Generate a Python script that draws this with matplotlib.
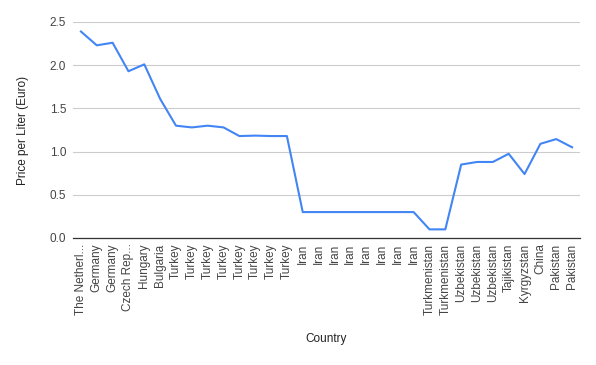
import matplotlib.pyplot as plt
import numpy as np

plt.rcParams['font.family'] = ['Liberation Sans', 'DejaVu Sans']

countries = ['The Netherl...', 'Germany', 'Germany', 'Czech Rep...', 'Hungary', 'Bulgaria',
             'Turkey', 'Turkey', 'Turkey', 'Turkey', 'Turkey', 'Turkey', 'Turkey', 'Turkey',
             'Iran', 'Iran', 'Iran', 'Iran', 'Iran', 'Iran', 'Iran', 'Iran',
             'Turkmenistan', 'Turkmenistan', 'Uzbekistan', 'Uzbekistan', 'Uzbekistan',
             'Tajikistan', 'Kyrgyzstan', 'China', 'Pakistan', 'Pakistan']
price = [2.39, 2.23, 2.26, 1.93, 2.01, 1.61,
         1.30, 1.28, 1.30, 1.28, 1.18, 1.185, 1.18, 1.18,
         0.30, 0.30, 0.30, 0.30, 0.30, 0.30, 0.30, 0.30,
         0.10, 0.10, 0.85, 0.88, 0.88,
         0.975, 0.74, 1.09, 1.145, 1.05]
yticks = [0.0, 0.5, 1.0, 1.5, 2.0, 2.5]

fig = plt.figure(figsize=(5.96, 3.65), dpi=100)
ax = fig.add_axes([73 / 596, 1 - 238 / 365, 507 / 596, 216 / 365])

x = np.arange(len(countries))
ax.plot(x, price, color='#4285F4', linewidth=1.5, solid_joinstyle='round', zorder=3)

ax.set_xlim(-0.5, len(countries) - 0.5)
ax.set_ylim(0, 2.5)
ax.set_yticks(yticks)
ax.set_yticklabels(['%.1f' % v for v in yticks])
ax.set_xticks(x)
ax.set_xticklabels(countries, rotation=90, va='top', ha='center')

ax.grid(axis='y', color='#cccccc', linewidth=0.8)
ax.set_axisbelow(True)
for s in ['top', 'right', 'left']:
    ax.spines[s].set_visible(False)
ax.spines['bottom'].set_color('#333333')
ax.spines['bottom'].set_linewidth(0.9)
ax.spines['bottom'].set_zorder(4)
ax.tick_params(axis='both', length=0, labelsize=8.5, labelcolor='#444444')
ax.tick_params(axis='x', pad=4)
ax.tick_params(axis='y', pad=5)

ax.set_xlabel('Country', fontsize=8.5, color='#222222', labelpad=13)
ax.set_ylabel('Price per Liter (Euro)', fontsize=8.5, color='#222222', labelpad=15)

plt.savefig('out.png', dpi=100)
